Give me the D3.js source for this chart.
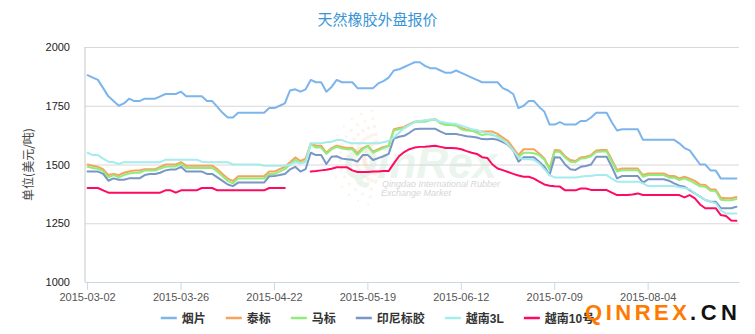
<!DOCTYPE html>
<html>
<head>
<meta charset="utf-8">
<script src="https://cdn.jsdelivr.net/npm/d3@7"></script>
<style>
  body { margin: 0; background: #fff; }
  svg { display: block; font-family: "Liberation Sans", "Noto Sans CJK SC", sans-serif; }
</style>
</head>
<body>
<div id="chart"></div>
<script>
// trading days, 2015-03-02 .. 2015-08-27
var dates = (
  "2015-03-02 2015-03-03 2015-03-04 2015-03-05 2015-03-06 2015-03-09 2015-03-10 2015-03-11 2015-03-12 2015-03-13 " +
  "2015-03-16 2015-03-17 2015-03-18 2015-03-19 2015-03-20 2015-03-23 2015-03-24 2015-03-25 2015-03-26 2015-03-27 " +
  "2015-03-30 2015-03-31 2015-04-01 2015-04-02 2015-04-06 2015-04-07 2015-04-08 2015-04-09 2015-04-10 2015-04-13 " +
  "2015-04-14 2015-04-15 2015-04-16 2015-04-17 2015-04-20 2015-04-21 2015-04-22 2015-04-23 2015-04-24 2015-04-27 " +
  "2015-04-28 2015-04-29 2015-04-30 2015-05-04 2015-05-05 2015-05-06 2015-05-07 2015-05-08 2015-05-11 2015-05-12 " +
  "2015-05-13 2015-05-14 2015-05-15 2015-05-18 2015-05-19 2015-05-20 2015-05-21 2015-05-22 2015-05-25 2015-05-26 " +
  "2015-05-27 2015-05-28 2015-05-29 2015-06-01 2015-06-02 2015-06-03 2015-06-04 2015-06-05 2015-06-08 2015-06-09 " +
  "2015-06-10 2015-06-11 2015-06-12 2015-06-15 2015-06-16 2015-06-17 2015-06-18 2015-06-19 2015-06-23 2015-06-24 " +
  "2015-06-25 2015-06-26 2015-06-29 2015-06-30 2015-07-01 2015-07-02 2015-07-03 2015-07-06 2015-07-07 2015-07-08 " +
  "2015-07-09 2015-07-10 2015-07-13 2015-07-14 2015-07-15 2015-07-16 2015-07-17 2015-07-20 2015-07-21 2015-07-22 " +
  "2015-07-23 2015-07-24 2015-07-27 2015-07-28 2015-07-29 2015-07-30 2015-07-31 2015-08-03 2015-08-04 2015-08-05 " +
  "2015-08-06 2015-08-07 2015-08-10 2015-08-11 2015-08-12 2015-08-13 2015-08-14 2015-08-17 2015-08-18 2015-08-19 " +
  "2015-08-20 2015-08-21 2015-08-24 2015-08-25 2015-08-26 2015-08-27").split(" ");

var xTickLabels = ["2015-03-02", "2015-03-26", "2015-04-22", "2015-05-19", "2015-06-12", "2015-07-09", "2015-08-04"];
var yTicks = [1000, 1250, 1500, 1750, 2000];

var yanpian = [
  1880,1870,1860,1825,1790,1770,1750,1760,1780,1770,
  1770,1780,1780,1780,1790,1800,1800,1800,1810,1790,
  1790,1790,1790,1770,1770,1745,1720,1700,1700,1720,
  1720,1720,1720,1720,1720,1740,1740,1750,1760,1815,
  1820,1810,1820,1860,1850,1850,1810,1830,1860,1850,
  1850,1850,1825,1825,1825,1825,1845,1855,1870,1900,
  1905,1915,1925,1935,1935,1920,1910,1910,1900,1890,
  1890,1900,1890,1880,1870,1860,1850,1850,1850,1850,
  1825,1815,1800,1740,1750,1770,1770,1745,1725,1670,
  1670,1680,1670,1670,1670,1685,1685,1700,1720,1720,
  1720,1680,1645,1650,1650,1650,1650,1605,1605,1605,
  1605,1605,1605,1605,1590,1570,1560,1530,1500,1500,
  1475,1475,1440,1440,1440,1440];

var taibiao = [
  1500,1495,1490,1480,1455,1460,1455,1465,1470,1475,
  1475,1480,1480,1480,1490,1500,1500,1500,1510,1495,
  1495,1495,1495,1495,1495,1480,1460,1440,1430,1450,
  1450,1450,1450,1450,1450,1470,1470,1480,1490,1510,
  1530,1515,1525,1590,1580,1580,1550,1570,1580,1575,
  1570,1570,1548,1570,1580,1555,1565,1575,1580,1650,
  1655,1660,1672,1682,1685,1685,1690,1692,1678,1670,
  1670,1668,1655,1648,1645,1640,1640,1640,1640,1630,
  1615,1600,1570,1540,1565,1565,1565,1547,1526,1483,
  1562,1560,1535,1519,1515,1530,1533,1540,1560,1562,
  1562,1520,1477,1483,1483,1483,1483,1455,1462,1462,
  1462,1462,1451,1451,1441,1448,1440,1430,1415,1413,
  1395,1394,1358,1356,1356,1362];

var mabiao = [
  1490,1485,1482,1472,1445,1455,1445,1455,1462,1465,
  1465,1474,1474,1474,1483,1490,1492,1492,1502,1485,
  1485,1485,1485,1485,1485,1470,1450,1430,1420,1440,
  1440,1440,1440,1440,1440,1460,1460,1470,1480,1500,
  1520,1505,1515,1587,1572,1572,1545,1565,1575,1568,
  1565,1565,1540,1565,1578,1550,1560,1570,1578,1645,
  1650,1655,1670,1680,1682,1682,1688,1692,1675,1668,
  1668,1665,1650,1645,1644,1635,1625,1630,1625,1620,
  1605,1587,1560,1531,1550,1550,1548,1540,1520,1477,
  1555,1553,1530,1512,1510,1525,1527,1535,1553,1555,
  1555,1512,1470,1476,1476,1476,1476,1448,1455,1455,
  1455,1455,1444,1444,1434,1441,1432,1420,1407,1405,
  1388,1387,1350,1348,1348,1353];

var yinni = [
  1470,1470,1470,1460,1431,1441,1435,1435,1441,1441,
  1441,1455,1460,1460,1465,1475,1479,1479,1490,1470,
  1470,1470,1470,1460,1460,1445,1430,1415,1408,1423,
  1423,1423,1423,1423,1423,1450,1451,1455,1460,1479,
  1490,1470,1480,1550,1540,1540,1502,1533,1535,1525,
  1522,1520,1512,1540,1540,1519,1527,1535,1545,1610,
  1618,1622,1635,1650,1652,1652,1652,1652,1640,1630,
  1630,1630,1625,1620,1618,1615,1608,1607,1610,1605,
  1595,1583,1560,1512,1531,1531,1531,1512,1491,1455,
  1531,1530,1500,1480,1477,1490,1494,1500,1533,1533,
  1533,1490,1441,1451,1451,1451,1451,1423,1437,1437,
  1437,1437,1431,1420,1410,1405,1391,1377,1363,1349,
  1342,1342,1314,1314,1314,1320];

var yuenan3L = [
  1550,1540,1540,1525,1512,1510,1502,1510,1510,1510,
  1510,1510,1510,1510,1510,1520,1520,1520,1520,1520,
  1520,1520,1512,1510,1510,1510,1510,1510,1500,1500,
  1500,1500,1500,1500,1495,1495,1495,1495,1495,1500,
  1510,1505,1510,1590,1590,1590,1595,1597,1604,1604,
  1595,1590,1590,1590,1590,1590,1590,1595,1600,1615,
  1635,1655,1668,1680,1685,1688,1690,1690,1682,1678,
  1675,1672,1665,1658,1650,1647,1638,1633,1630,1615,
  1603,1585,1560,1530,1522,1522,1520,1505,1480,1455,
  1445,1445,1445,1445,1445,1448,1451,1451,1455,1455,
  1455,1440,1427,1427,1427,1427,1427,1420,1408,1408,
  1408,1408,1408,1408,1403,1400,1395,1378,1362,1350,
  1342,1335,1305,1292,1292,1292];

var yuenan10 = [
  1400,1400,1400,1390,1380,1380,1380,1380,1380,1380,
  1380,1380,1380,1380,1380,1390,1390,1380,1390,1390,
  1390,1390,1400,1400,1400,1390,1390,1390,1390,1390,
  1390,1390,1390,1390,1390,1400,1400,1400,1400,null,
  null,null,null,1470,1472,1475,1478,1482,1488,1488,
  1488,1475,1468,1468,1468,1470,1470,1472,1472,1505,
  1535,1553,1565,1572,1575,1576,1578,1580,1575,1570,
  1570,1569,1565,1557,1550,1545,1531,1528,1500,1483,
  1476,1468,1460,1453,1448,1448,1440,1427,1415,1410,
  1407,1406,1390,1390,1390,1398,1398,1392,1391,1391,
  1391,1380,1370,1370,1370,1372,1377,1370,1370,1370,
  1370,1370,1370,1370,1370,1360,1370,1356,1330,1314,
  1314,1314,1285,1281,1262,1261];

var seriesNames = ["烟片", "泰标", "马标", "印尼标胶", "越南3L", "越南10号"];
var seriesValues = [yanpian, taibiao, mabiao, yinni, yuenan3L, yuenan10];
var seriesColors = ["#7cb5ec", "#f7a35c", "#90ed7d", "#7896c6", "#a4ecee", "#ff0a62"];

(function() {
  var width = 755, height = 334;
  var plotLeft = 85, plotRight = 739, plotTop = 47, plotBottom = 282;

  var svg = d3.select("#chart").append("svg")
    .attr("width", width)
    .attr("height", height);

  var x = d3.scaleBand().domain(dates).range([plotLeft, plotRight]);
  var y = d3.scaleLinear().domain([1000, 2000]).range([plotBottom, plotTop]);

  // faint exchange watermark behind the lines
  var mark = svg.append("g").attr("class", "watermark");
  var dotRings = [16, 24, 32, 40, 48];
  dotRings.forEach(function(r, k) {
    d3.range(100, 262, 9 + k).forEach(function(a) {
      var t = a * Math.PI / 180;
      mark.append("circle")
        .attr("cx", 380 + r * Math.cos(t))
        .attr("cy", 158 - r * Math.sin(t))
        .attr("r", 2.4 - k * 0.3)
        .attr("fill", "#fbd9c2")
        .attr("opacity", 0.35);
    });
  });
  mark.append("text")
    .attr("x", 343).attr("y", 178)
    .attr("font-size", 44).attr("font-weight", "bold").attr("font-style", "italic")
    .attr("fill", "#e2f2e8").attr("opacity", 0.7)
    .text("QinRex");
  mark.append("text")
    .attr("x", 382).attr("y", 187)
    .attr("font-size", 9).attr("font-style", "italic")
    .attr("fill", "#d6d6d6")
    .text("Qingdao International Rubber");
  mark.append("text")
    .attr("x", 381).attr("y", 196)
    .attr("font-size", 9).attr("font-style", "italic")
    .attr("fill", "#d6d6d6")
    .text("Exchange Market");

  // y axis + grid
  var yAxis = svg.append("g")
    .attr("transform", "translate(" + plotLeft + ",0)")
    .call(d3.axisLeft(y).tickValues(yTicks).tickFormat(d3.format("d"))
      .tickSize(-(plotRight - plotLeft)).tickPadding(15));
  yAxis.select(".domain").remove();
  yAxis.selectAll(".tick line").attr("stroke", "#d8d8d8");
  yAxis.selectAll(".tick text")
    .attr("font-size", 11).attr("fill", "#222")
    .attr("font-family", "Liberation Sans, sans-serif");

  svg.append("line")
    .attr("x1", plotLeft).attr("x2", plotLeft)
    .attr("y1", plotTop).attr("y2", plotBottom)
    .attr("stroke", "#c8c8c8");

  // x axis
  var xAxis = svg.append("g")
    .attr("transform", "translate(0," + plotBottom + ")")
    .call(d3.axisBottom(x).tickValues(xTickLabels).tickSizeInner(8).tickSizeOuter(0).tickPadding(3));
  xAxis.select(".domain").attr("stroke", "#ccd6eb");
  xAxis.selectAll(".tick line").attr("stroke", "#ccd6eb");
  xAxis.selectAll(".tick text")
    .attr("font-size", 11).attr("fill", "#555")
    .attr("font-family", "Liberation Sans, sans-serif");

  // lines
  var line = d3.line()
    .defined(function(d) { return d != null; })
    .x(function(d, i) { return x(dates[i]) + x.bandwidth() / 2; })
    .y(function(d) { return y(d); });

  seriesValues.forEach(function(vals, k) {
    svg.append("path")
      .datum(vals)
      .attr("fill", "none")
      .attr("stroke", seriesColors[k])
      .attr("stroke-width", 2)
      .attr("stroke-linejoin", "round")
      .attr("stroke-linecap", "round")
      .attr("d", line);
  });

  // title
  svg.append("text")
    .attr("x", width / 2).attr("y", 25)
    .attr("text-anchor", "middle")
    .attr("font-size", 15)
    .attr("font-family", "Noto Sans CJK SC, sans-serif")
    .attr("fill", "#3a94d6")
    .text("天然橡胶外盘报价");

  // y title
  svg.append("text")
    .attr("transform", "translate(33," + ((plotTop + plotBottom) / 2) + ") rotate(-90)")
    .attr("text-anchor", "middle")
    .attr("font-size", 12)
    .attr("font-family", "Noto Sans CJK SC, sans-serif")
    .attr("fill", "#444")
    .text("单位(美元/吨)");

  // legend
  var legend = svg.append("g");
  var items = legend.selectAll("g").data(seriesNames).enter().append("g");
  items.append("line")
    .attr("x1", 0).attr("x2", 16)
    .attr("y1", 0).attr("y2", 0)
    .attr("stroke", function(d, i) { return seriesColors[i]; })
    .attr("stroke-width", 2.5);
  items.append("text")
    .attr("x", 21).attr("y", 4.5)
    .attr("font-size", 12)
    .attr("font-weight", "bold")
    .attr("fill", "#333")
    .text(function(d) { return d; });

  var pos = 0, offsets = [];
  items.each(function() {
    offsets.push(pos);
    pos += 21 + d3.select(this).select("text").node().getComputedTextLength() + 20;
  });
  var total = pos - 20;
  var start = width / 2 - total / 2;
  items.attr("transform", function(d, i) { return "translate(" + (start + offsets[i]) + ",318)"; });

  // site stamp bottom right
  var stamp = svg.append("text")
    .attr("y", 320)
    .attr("font-size", 22)
    .attr("font-weight", "bold")
    .attr("font-family", "Liberation Sans, sans-serif");
  stamp.append("tspan")
    .attr("x", 585)
    .attr("textLength", 102).attr("lengthAdjust", "spacing")
    .attr("fill", "#ff7a00")
    .text("QINREX");
  stamp.append("tspan")
    .attr("x", 690)
    .attr("textLength", 47).attr("lengthAdjust", "spacing")
    .attr("fill", "#111")
    .text(".CN");
})();
</script>
</body>
</html>
